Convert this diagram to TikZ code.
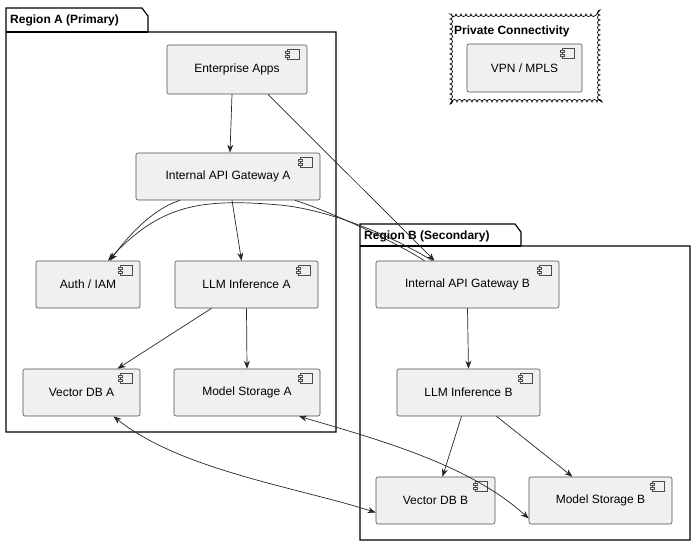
\documentclass[tikz,border=0pt]{standalone}
\usepackage{fontspec}
\setmainfont{Liberation Sans}
\usetikzlibrary{arrows.meta,decorations.pathmorphing,calc}
\begin{document}
\begin{tikzpicture}[x=1pt,y=-1pt,
  comp/.style={draw=black!70,fill=black!6,rounded corners=2pt,line width=0.6pt,font=\fontsize{12}{14}\selectfont},
  frm/.style={draw=black,line width=1.2pt},
  ttl/.style={font=\bfseries\fontsize{12}{14}\selectfont,anchor=west,inner sep=0pt},
  arr/.style={draw=black!85,line width=0.7pt,-{Stealth[length=8pt,width=6pt]}},
  darr/.style={draw=black!85,line width=0.7pt,{Stealth[length=8pt,width=6pt]}-{Stealth[length=8pt,width=6pt]}},
  ln/.style={draw=black!85,line width=0.7pt}]
\useasboundingbox (0,0) rectangle (697,547);
% frames
\draw[frm] (6,432) -- (6,8) -- (142,8) -- (148,16) -- (148,32) -- (336,32) -- (336,432) -- cycle;
\draw[frm] (6,32) -- (148,32);
\node[ttl] (ra) at (10,20) {Region A (Primary)};
\draw[frm] (360,540) -- (360,224) -- (515,224) -- (521,232) -- (521,246) -- (690,246) -- (690,540) -- cycle;
\draw[frm] (360,246) -- (521,246);
\node[ttl] (rb) at (364,236) {Region B (Secondary)};
% cloud
\draw[line width=0.7pt,decorate,decoration={bumps,segment length=10pt,amplitude=2.5pt}] (450,14) -- (450,102) -- (600,102) -- (600,14) -- cycle;
\node[ttl] (pc) at (454,31) {Private Connectivity};
% components
\node[comp,minimum width=140,minimum height=49] (ent) at (237,69.5) {Enterprise Apps};
\node[comp,minimum width=184,minimum height=47] (gwa) at (228,176.5) {Internal API Gateway A};
\node[comp,minimum width=104,minimum height=47] (auth) at (88,284.5) {Auth / IAM};
\node[comp,minimum width=143,minimum height=47] (llma) at (246.5,284.5) {LLM Inference A};
\node[comp,minimum width=117,minimum height=47] (veca) at (81.5,392.5) {Vector DB A};
\node[comp,minimum width=146,minimum height=47] (msa) at (247,392.5) {Model Storage A};
\node[comp,minimum width=115,minimum height=48] (vpn) at (524.5,68) {VPN / MPLS};
\node[comp,minimum width=183,minimum height=47] (gwb) at (467.5,284.5) {Internal API Gateway B};
\node[comp,minimum width=143,minimum height=47] (llmb) at (468.5,392.5) {LLM Inference B};
\node[comp,minimum width=119,minimum height=47] (vecb) at (435.5,500.5) {Vector DB B};
\node[comp,minimum width=143,minimum height=47] (msb) at (600.5,500.5) {Model Storage B};
\foreach \n in {ent,gwa,auth,llma,veca,msa,vpn,gwb,llmb,vecb,msb}{
  \draw[black!70,fill=black!6,line width=0.5pt] ($(\n.north east)+(-20,5)$) rectangle ($(\n.north east)+(-8,15)$);
  \draw[black!70,fill=black!6,line width=0.5pt] ($(\n.north east)+(-22,7)$) rectangle ($(\n.north east)+(-18,9)$);
  \draw[black!70,fill=black!6,line width=0.5pt] ($(\n.north east)+(-22,11)$) rectangle ($(\n.north east)+(-18,13)$);
}
% connectors
\draw[arr] ([xshift=-5]ent.south) -- ([xshift=2]gwa.north);
\draw[arr] ([xshift=31]ent.south) -- ([xshift=-33]gwb.north);
\draw[arr] ([xshift=-48]gwa.south) .. controls (150,210) and (125,240) .. ([xshift=22]auth.north);
\draw[arr] ([xshift=4]gwa.south) -- ([xshift=-5]llma.north);
\draw[ln] ([xshift=67]gwa.south) .. controls (340,215) and (400,245) .. ([xshift=-43]gwb.north);
\draw[arr] ([xshift=-35]gwb.north) .. controls (390,235) and (330,210) .. (280,205) .. controls (200,198) and (160,205) .. ([xshift=20]auth.north);
\draw[arr] ([xshift=-35]llma.south) -- ([xshift=36]veca.north);
\draw[arr] (llma.south) -- (msa.north);
\draw[arr] (gwb.south) -- (llmb.north);
\draw[arr] ([xshift=-7]llmb.south) -- ([xshift=7]vecb.north);
\draw[arr] ([xshift=28]llmb.south) -- ([xshift=-28]msb.north);
\draw[darr] ([xshift=32]veca.south) .. controls (180,470) and (300,488) .. ([yshift=-12]vecb.west);
\draw[darr] ([xshift=52]msa.south) .. controls (380,440) and (470,465) .. ([yshift=-18]msb.west);
\end{tikzpicture}
\end{document}
